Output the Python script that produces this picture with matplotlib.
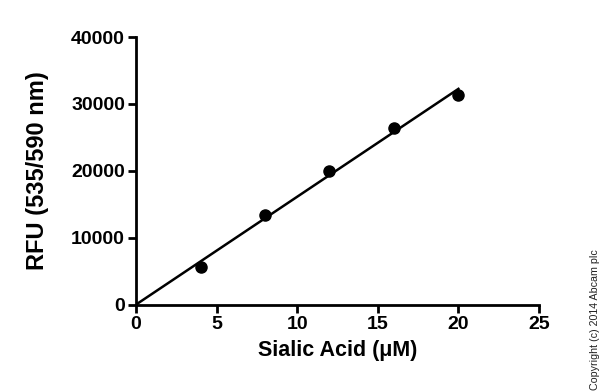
import matplotlib
matplotlib.use("Agg")
import matplotlib.pyplot as plt
import numpy as np

plt.rcParams['font.family'] = ['Liberation Sans', 'DejaVu Sans']

# data
sialic_acid = np.array([4, 8, 12, 16, 20])
rfu = np.array([5700, 13400, 20000, 26400, 31400])

x_ticks = [0, 5, 10, 15, 20, 25]
y_ticks = [0, 10000, 20000, 30000, 40000]

# linear fit through the standards
slope, intercept = np.polyfit(sialic_acid, rfu, 1)
fit_x = np.array([0, sialic_acid.max()])
fit_y = slope * fit_x + intercept

fig = plt.figure(figsize=(6, 3.92), dpi=100)
ax = fig.add_axes([0.2267, 0.222, 0.6717, 0.6836])

ax.plot(fit_x, fit_y, color='black', lw=1.8, zorder=2)
ax.plot(sialic_acid, rfu, 'o', color='black', ms=8, zorder=3, clip_on=False)

ax.set_xlim(0, 25)
ax.set_ylim(0, 40000)
ax.set_xticks(x_ticks)
ax.set_yticks(y_ticks)

for s in ['top', 'right']:
    ax.spines[s].set_visible(False)
for s in ['left', 'bottom']:
    ax.spines[s].set_linewidth(2)

ax.tick_params(direction='out', length=6, width=2, labelsize=14, pad=2)
for lab in ax.get_xticklabels() + ax.get_yticklabels():
    lab.set_fontweight('bold')

ax.set_xlabel('Sialic Acid (μM)', fontsize=15.5, fontweight='bold', labelpad=5)
ax.set_ylabel('RFU (535/590 nm)', fontsize=17, fontweight='bold', labelpad=16)

fig.text(1.0, 0.005, 'Copyright (c) 2014 Abcam plc', rotation=90,
         fontsize=7.7, ha='right', va='bottom', color='#222222')

fig.savefig('out.png', dpi=100)
